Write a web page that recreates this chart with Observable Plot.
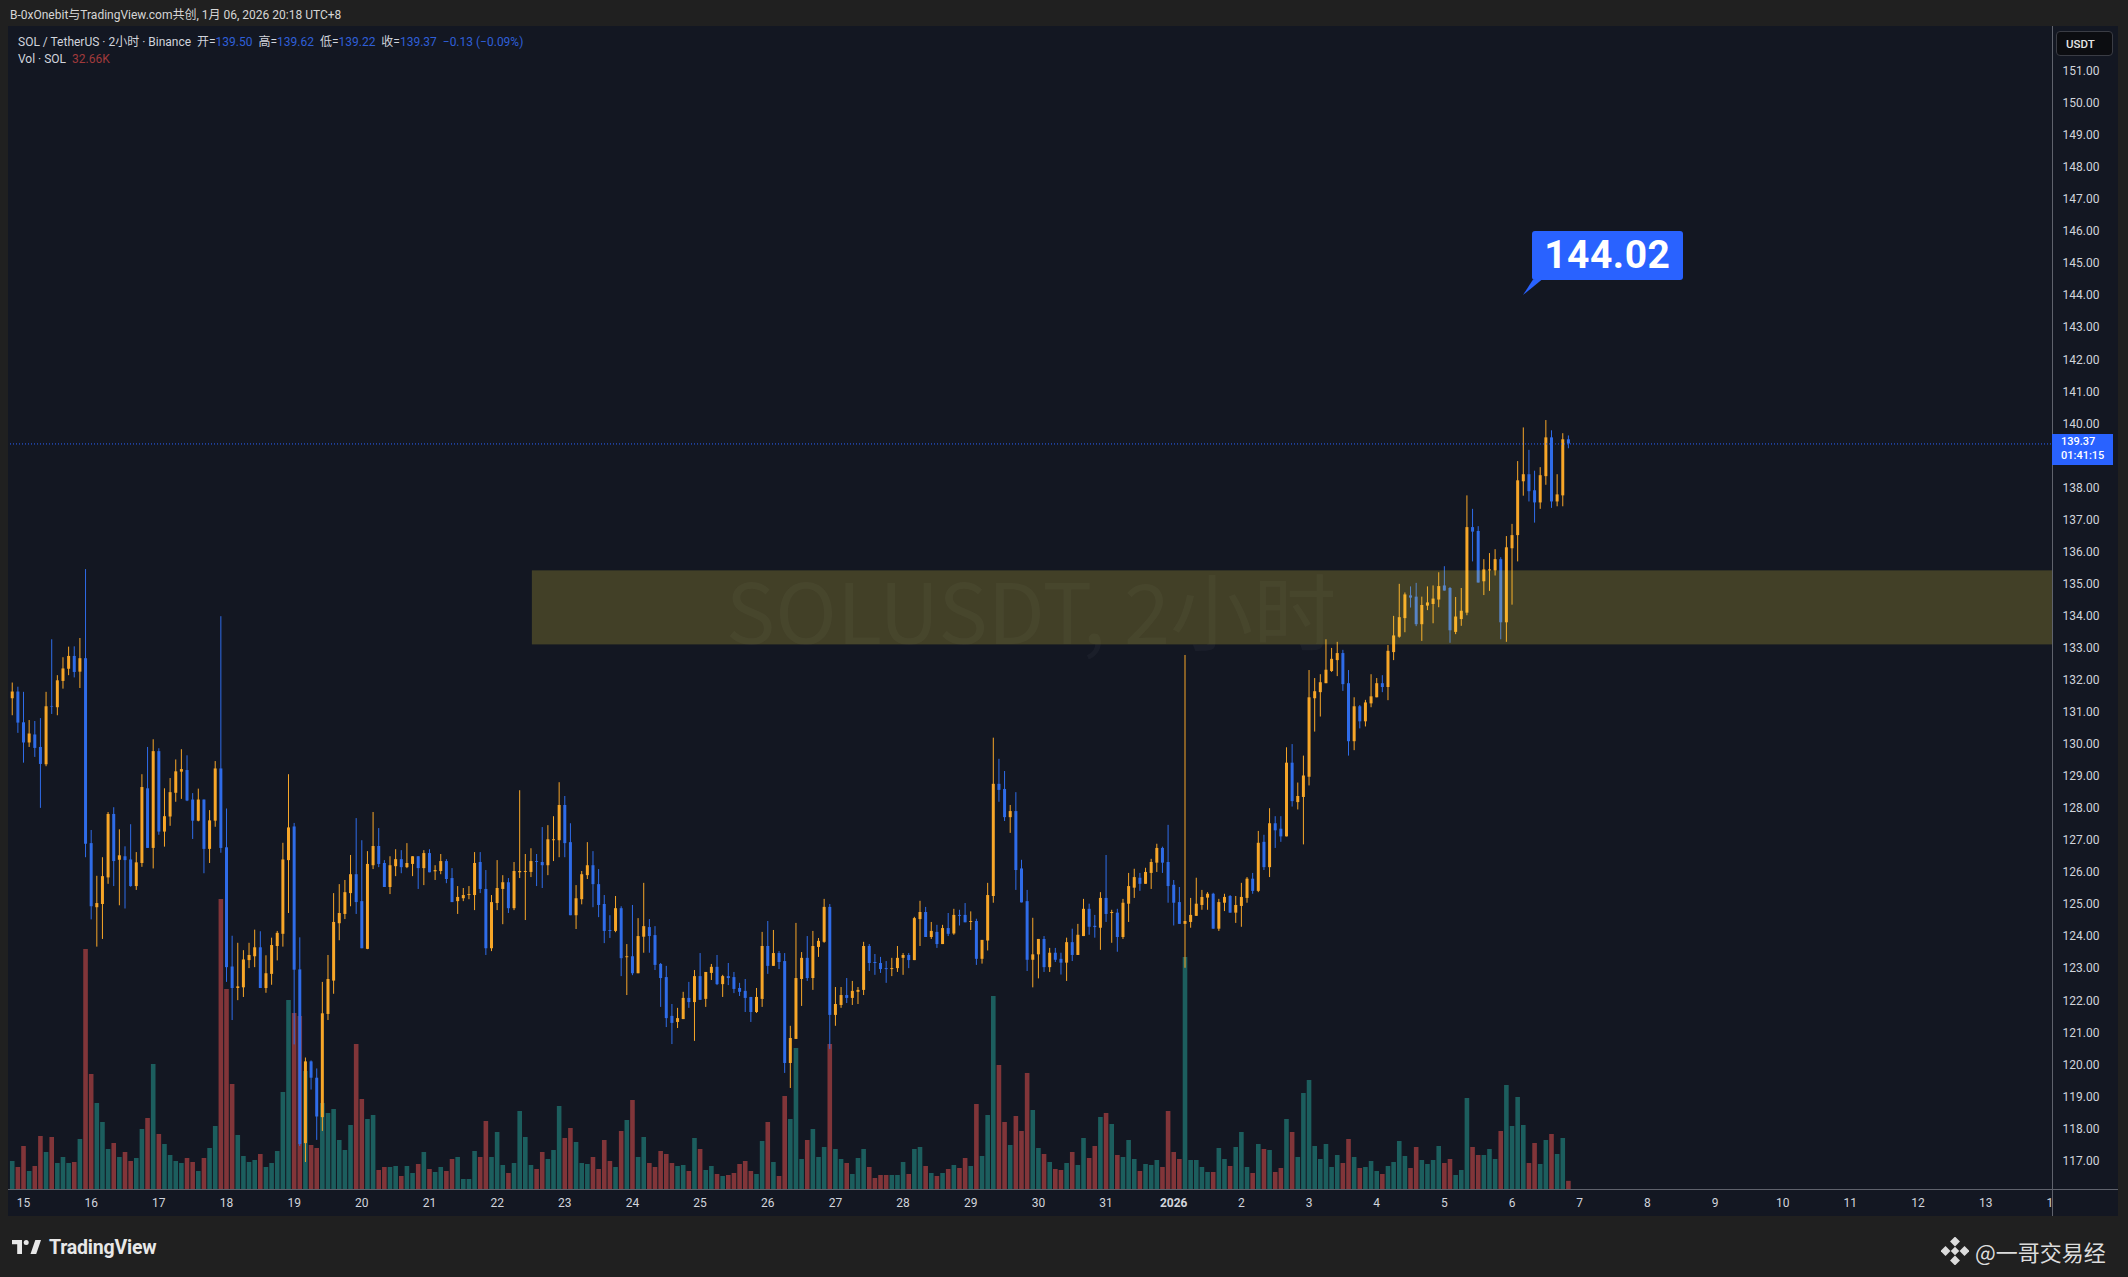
<!DOCTYPE html>
<html><head><meta charset="utf-8">
<script src="https://cdn.jsdelivr.net/npm/d3@7"></script>
<script src="https://cdn.jsdelivr.net/npm/@observablehq/plot@0.6"></script>
<style>
html,body{margin:0;padding:0;background:#202020;}
#root{position:relative;width:2128px;height:1277px;background:#202020;overflow:hidden;font-family:Roboto,"Noto Sans CJK SC",sans-serif;}
#topbar{position:absolute;left:10px;top:7px;font-size:12px;line-height:16px;color:#d6d6d6;white-space:nowrap;}
#pane{position:absolute;left:8px;top:26px;width:2110px;height:1190px;background:#131722;overflow:hidden;}
#pane svg{position:absolute;left:0;top:0;}
#wm{position:absolute;left:2px;top:0;width:2042px;height:1163px;display:flex;align-items:center;justify-content:center;font-family:"Noto Sans CJK SC",sans-serif;font-size:83px;color:rgba(200,205,225,0.04);white-space:nowrap;}
#legend{position:absolute;left:10px;top:8px;font-size:12px;line-height:17px;color:#d1d4dc;white-space:nowrap;}
.v{color:#2f5fd8;}
.vr{color:#a03a3c;}
#vline{position:absolute;left:2044px;top:0;width:1px;height:1190px;background:#5f626c;}
#hline{position:absolute;left:0;top:1163px;width:2110px;height:1px;background:#5f626c;}
#axcover{position:absolute;left:2045px;top:1164px;width:65px;height:26px;background:#131722;}
#usdt{position:absolute;left:2048px;top:5px;width:57px;height:25px;background:#0c0d11;border:1px solid #3a3c44;border-radius:4px;color:#e6e6e6;font-size:11.5px;line-height:25px;padding-left:9px;box-sizing:border-box;font-weight:500;}
#plabel{position:absolute;left:2044px;width:61px;height:31px;background:#2962ff;}
#plabel div{position:absolute;left:9px;color:#fff;font-size:11px;line-height:12px;font-weight:500;white-space:nowrap;}
#callout{position:absolute;background:#2962ff;color:#fff;font-weight:700;font-size:39px;line-height:49px;width:151px;height:49px;text-align:center;border-radius:3px;letter-spacing:0.5px;}
#tvlogo{position:absolute;left:12px;top:1236px;height:22px;display:flex;align-items:center;color:#e8e8e8;font-family:Roboto,sans-serif;font-weight:700;font-size:19.5px;letter-spacing:-0.2px;}
#credit{position:absolute;left:1941px;top:1236px;height:30px;display:flex;align-items:center;color:#dcdcdc;font-family:"Noto Sans CJK SC",sans-serif;font-size:22px;}
</style></head>
<body>
<div id="root">
  <div id="topbar">B-0xOnebit与TradingView.com共创, 1月 06, 2026 20:18 UTC+8</div>
  <div id="pane">
    <div id="wm">SOLUSDT, 2小时</div>
  </div>
  <div id="tvlogo"><svg width="30" height="15" viewBox="0 0 30 15"><path d="M0 0H10V14H5.2V4.3H0Z" fill="#e8e8e8"/><circle cx="14.2" cy="2.5" r="2.5" fill="#e8e8e8"/><path d="M18.5 14L23.3 0H29L24.2 14Z" fill="#e8e8e8"/></svg><span style="margin-left:7px">TradingView</span></div>
  <div id="credit"><svg width="28" height="28" viewBox="0 0 28 28"><g fill="#dcdcdc"><rect x="10.5" y="1" width="7" height="7" transform="rotate(45 14 4.5)"/><rect x="10.5" y="20" width="7" height="7" transform="rotate(45 14 23.5)"/><rect x="1" y="10.5" width="7" height="7" transform="rotate(45 4.5 14)"/><rect x="20" y="10.5" width="7" height="7" transform="rotate(45 23.5 14)"/><rect x="11" y="11" width="6" height="6" transform="rotate(45 14 14)"/></g></svg><span style="margin-left:6px">@一哥交易经</span></div>
</div>
<script>
// ---------- data (2h candles, SOL/USDT, UTC+8), first candle 2025-12-14 20:00 ----------
const open = [
131.42,131.63,130.67,130.04,130.29,129.90,129.36,131.18,131.14,131.96,
132.34,132.74,132.25,132.67,126.90,124.90,125.00,125.83,127.81,126.38,
126.49,126.39,125.56,126.28,128.61,126.75,129.77,127.26,127.73,128.47,
129.13,129.18,128.26,127.60,128.26,126.72,127.60,129.23,126.77,123.05,
122.38,122.40,123.25,123.37,123.65,122.38,122.82,123.69,124.07,126.37,
127.42,122.96,117.54,120.09,119.58,118.35,121.57,122.61,124.40,124.69,
125.34,125.93,125.09,123.60,126.21,126.81,126.28,125.53,126.18,126.40,
126.15,126.25,126.49,126.12,126.59,126.02,126.03,126.34,125.81,125.09,
125.18,125.28,125.28,126.31,125.47,123.62,125.03,125.47,125.68,124.87,
125.99,126.00,126.00,126.34,126.31,126.21,126.99,126.99,128.09,126.93,
124.65,125.15,125.90,126.21,125.62,125.00,124.19,124.16,124.87,123.34,
123.37,122.84,123.98,124.28,124.03,123.13,122.72,121.51,121.32,121.41,
122.07,121.94,122.75,122.04,122.85,123.04,122.50,122.75,122.72,122.38,
122.29,122.10,121.63,122.04,123.69,123.07,123.47,123.22,120.04,120.79,
122.66,123.32,122.69,123.66,123.82,124.91,121.54,121.85,122.16,122.07,
122.26,122.32,123.69,123.19,123.16,123.00,122.97,123.00,123.32,123.41,
123.25,124.53,124.75,123.97,124.13,123.75,124.25,124.08,124.66,124.66,
124.44,124.47,123.29,123.86,125.25,128.75,128.59,127.71,127.90,126.11,
125.09,123.26,123.43,123.91,123.03,123.48,123.29,123.17,123.81,123.41,
124.00,124.85,124.32,124.26,125.19,124.72,124.73,123.97,125.01,125.51,
125.82,125.63,125.97,126.29,126.75,126.31,125.60,125.06,124.38,124.44,
124.63,124.97,125.20,125.32,124.23,125.04,125.25,124.73,124.94,125.19,
125.79,125.41,126.94,126.15,127.52,127.35,127.11,129.41,128.18,128.34,
128.97,131.42,131.61,131.89,132.27,132.61,132.83,131.89,130.08,131.17,
130.70,131.26,131.45,131.89,131.77,132.86,133.34,133.92,134.63,134.59,
133.73,134.31,134.36,134.50,134.94,134.86,133.49,133.89,134.09,136.76,
136.64,135.07,135.41,135.41,135.76,133.79,136.10,136.51,138.19,138.41,
137.91,137.53,138.35,139.56,137.56,137.75,139.50];
const high = [
131.91,131.78,131.62,130.74,130.71,130.80,131.62,133.26,132.14,132.70,
133.03,133.04,133.30,135.45,127.31,125.88,126.46,127.87,128.02,127.33,
126.80,127.49,126.62,129.05,129.90,130.14,129.86,128.61,128.93,129.51,
129.83,129.64,128.46,128.60,128.26,127.93,129.46,133.98,127.98,124.01,
123.79,123.56,123.79,124.20,124.15,123.40,123.95,124.16,126.91,129.05,
127.53,123.96,120.21,120.12,119.87,122.57,123.41,125.34,125.62,125.75,
126.53,127.68,126.99,126.65,127.87,127.37,126.37,126.49,126.71,126.68,
126.90,126.49,126.49,126.68,126.71,126.21,126.56,126.40,126.12,125.56,
125.50,125.56,126.62,126.62,126.06,125.28,126.37,125.90,125.81,126.31,
128.55,126.56,126.74,126.56,127.40,127.46,127.74,128.80,128.37,127.52,
125.59,126.03,126.93,126.65,126.09,125.28,124.65,125.25,124.93,123.75,
124.97,124.56,125.66,124.53,124.31,123.16,123.07,121.88,121.76,122.26,
122.57,122.94,123.47,122.88,123.13,123.41,122.79,123.16,122.88,122.54,
122.66,122.10,122.38,124.13,124.47,124.19,123.53,123.47,121.20,124.41,
123.50,124.00,124.16,123.94,125.16,125.00,122.41,122.41,122.69,122.60,
122.41,123.82,123.75,123.44,123.35,123.22,123.32,123.69,123.47,123.47,
124.60,125.10,124.91,124.44,124.35,124.35,124.72,124.85,124.82,125.03,
124.77,124.54,123.88,125.66,130.19,129.53,129.15,128.09,128.49,126.38,
125.44,124.57,123.91,124.00,123.63,123.63,123.48,123.95,124.23,124.38,
125.16,125.01,124.66,125.37,126.53,124.82,124.85,125.16,125.97,126.10,
125.97,126.13,126.41,126.88,126.79,127.47,125.75,125.53,132.77,125.19,
125.82,125.44,125.37,125.35,125.16,125.32,125.28,125.25,125.66,125.84,
125.97,127.28,127.16,127.99,127.74,127.74,129.89,129.99,128.79,129.63,
132.30,132.05,132.17,133.26,132.99,133.18,132.93,132.30,131.45,131.21,
131.37,132.17,132.05,132.14,133.08,133.99,134.99,134.72,134.91,135.02,
134.59,134.91,134.94,135.35,135.54,134.89,134.58,134.86,137.75,137.33,
136.79,135.76,135.95,136.07,135.82,136.48,136.86,138.82,139.87,139.17,
138.52,138.63,140.10,139.78,138.41,139.69,139.62];
const low = [
130.89,130.34,129.41,129.90,129.59,128.00,129.30,130.93,130.89,131.72,
132.14,132.07,131.74,126.46,124.52,123.67,123.91,125.63,125.56,124.96,
124.86,125.54,125.44,126.16,126.75,126.11,127.16,126.79,127.44,128.19,
128.28,128.21,127.03,127.58,125.96,126.28,127.41,126.60,122.57,121.38,
122.00,122.10,123.00,123.03,122.38,122.23,122.48,123.24,123.67,124.72,
120.62,117.45,116.95,119.21,117.64,117.92,121.38,122.20,123.87,124.53,
124.93,124.69,123.62,123.59,126.09,126.15,125.53,125.31,125.87,125.96,
126.12,125.87,125.47,125.59,125.99,125.75,125.93,125.65,125.06,124.69,
125.09,125.15,124.81,125.34,123.41,123.53,124.81,124.37,124.72,124.81,
125.81,124.50,125.84,125.56,125.50,125.90,126.34,126.46,126.46,124.65,
124.22,124.99,125.78,124.90,124.59,123.78,123.94,124.12,122.75,122.16,
122.78,122.84,123.48,123.48,122.94,121.79,121.16,120.63,121.13,121.41,
121.76,120.73,122.01,121.79,122.63,122.47,122.10,122.47,122.22,122.13,
121.63,121.32,121.60,121.79,122.82,123.07,122.97,119.73,119.26,120.79,
121.82,122.60,122.32,123.35,123.79,120.48,121.20,121.76,121.91,121.85,
121.88,122.16,122.91,122.79,122.85,122.54,122.75,122.88,122.79,123.00,
123.25,123.69,123.97,123.91,123.63,123.75,124.00,124.04,124.33,124.43,
124.19,123.10,123.14,123.55,125.04,128.19,127.59,127.22,125.44,125.05,
122.91,122.40,122.68,122.88,122.88,123.19,122.80,122.60,123.22,123.41,
124.00,124.04,123.95,123.57,124.44,123.79,123.51,123.91,124.44,125.19,
125.41,125.63,125.47,126.00,125.97,125.04,124.33,124.38,123.01,124.26,
124.63,124.82,124.82,124.23,124.16,124.78,124.73,124.41,124.29,125.04,
125.32,125.37,126.06,125.84,126.75,126.94,127.11,128.04,127.95,126.86,
128.70,130.38,130.85,131.89,132.24,132.11,131.65,129.63,129.80,130.48,
130.54,131.14,131.45,131.61,131.36,132.61,133.31,133.48,134.25,133.67,
133.21,134.17,133.76,134.26,134.78,133.15,133.42,133.68,134.01,135.69,
135.03,134.64,134.77,135.25,133.26,133.18,134.34,135.69,137.74,137.56,
136.90,137.33,138.08,137.36,137.41,137.41,139.22];
const close = [
131.63,130.66,130.04,130.32,129.87,129.37,131.17,131.16,131.98,132.35,
132.74,132.24,132.67,126.88,124.93,125.03,125.87,127.81,126.34,126.52,
126.37,125.56,126.30,128.65,126.75,129.77,127.26,127.74,128.49,129.14,
129.21,128.23,127.60,128.26,126.72,127.61,129.23,126.75,123.03,122.38,
122.43,123.27,123.41,123.65,122.38,122.84,123.72,124.10,126.39,127.39,
122.95,117.51,120.09,119.58,118.37,121.59,122.66,124.44,124.72,125.37,
125.93,125.06,123.62,126.25,126.81,126.25,125.53,126.21,126.40,126.15,
126.28,126.49,126.12,126.59,125.99,126.06,126.34,125.78,125.06,125.22,
125.28,125.31,126.28,125.47,123.62,125.06,125.50,125.68,124.87,126.03,
126.03,126.03,126.34,126.31,126.21,127.02,127.02,128.09,126.90,124.65,
125.18,125.93,126.21,125.62,124.97,124.16,124.16,124.87,123.31,123.37,
122.84,124.00,124.31,124.00,123.10,122.69,121.44,121.29,121.44,122.07,
121.94,122.75,122.01,122.88,123.04,122.50,122.75,122.69,122.35,122.26,
122.07,121.63,122.10,123.69,123.07,123.47,123.19,120.04,120.82,122.69,
123.32,122.69,123.69,123.85,124.91,121.54,121.88,122.16,122.07,122.29,
122.32,123.69,123.16,123.16,122.97,122.97,123.00,123.32,123.41,123.25,
124.56,124.75,123.97,124.16,123.75,124.25,124.07,124.66,124.63,124.43,
124.47,123.29,123.88,125.28,128.75,128.56,127.71,127.90,126.06,125.05,
123.26,123.43,123.91,123.03,123.48,123.26,123.17,123.81,123.41,124.04,
124.85,124.29,124.28,125.19,124.69,124.75,123.97,125.04,125.56,125.84,
125.63,126.00,126.31,126.75,126.29,125.56,125.04,124.38,124.47,124.66,
125.01,125.22,125.32,124.23,125.06,125.22,124.73,124.97,125.22,125.79,
125.41,126.91,126.15,127.52,127.30,127.11,129.41,128.21,128.37,129.01,
131.45,131.64,131.92,132.31,132.65,132.83,131.86,130.08,131.17,130.70,
131.29,131.48,131.89,131.77,132.90,133.38,133.95,134.66,134.56,133.73,
134.33,134.41,134.53,134.92,134.78,133.54,133.97,134.15,136.76,136.62,
135.03,135.44,135.44,135.76,133.79,136.13,136.51,138.22,138.41,137.88,
137.53,138.38,139.56,137.56,137.78,139.50,139.37];
// volume, thousands of SOL
const volume = [
112,88,172,72,92,212,148,208,104,128,
104,108,200,960,460,344,268,160,184,128,
148,112,124,240,284,500,220,180,136,112,
104,124,108,72,124,164,252,1160,800,420,
216,132,108,116,140,88,104,152,388,756,
704,692,472,176,164,344,304,320,196,156,
256,580,360,280,296,76,88,88,92,52,
92,64,100,148,80,68,88,72,120,128,
40,40,152,128,272,128,228,96,64,104,
312,208,96,80,148,120,156,332,204,244,
188,104,100,128,80,196,112,88,232,276,
356,128,208,104,88,152,140,104,92,96,
72,204,160,76,92,60,52,56,64,100,
112,72,60,192,268,108,52,372,280,564,
120,196,240,128,168,580,160,120,104,60,
124,160,88,44,56,56,56,56,108,60,
160,168,92,64,52,64,80,96,84,124,
92,340,132,296,772,496,268,176,292,232,
464,316,164,140,108,80,76,104,148,96,
204,124,172,288,304,260,136,128,196,120,
72,100,96,116,88,312,148,120,928,116,
116,88,68,68,164,120,92,168,228,88,
64,180,160,156,68,84,280,228,128,384,
436,172,120,180,88,136,104,200,128,84,
88,112,72,60,92,108,192,132,84,168,
116,100,116,172,104,120,56,76,364,168,
136,136,160,120,232,416,252,368,256,104,
184,100,196,220,140,204,32.66];

const xTickLabels = ["15","16","17","18","19","20","21","22","23","24","25","26","27","28","29","30","31","2026","2","3","4","5","6","7","8","9","10","11","12","13","14"];
// 139.00 is hidden behind the last-price label in the reference
const priceTicks = [117,118,119,120,121,122,123,124,125,126,127,128,129,130,131,132,133,134,135,136,137,138,140,141,142,143,144,145,146,147,148,149,150,151];
const zoneLow = 133.10, zoneHigh = 135.41;           // highlighted rectangle
const zoneStart = new Date(Date.UTC(2025, 11, 22, 12, 30));
const targetPrice = 144.02;                          // callout
const targetTime = new Date(Date.UTC(2026, 0, 6, 4, 0));
const countdown = "01:41:15";

// ---------- build ----------
const H2 = 7200000;
const start = Date.UTC(2025, 11, 14, 20);
const candles = open.map((o, i) => ({
  date: new Date(start + i * H2), open: o, high: high[i], low: low[i], close: close[i], volume: volume[i]
}));
const xTickDates = xTickLabels.map((_, i) => new Date(Date.UTC(2025, 11, 15 + i)));
const labelByTime = new Map(xTickDates.map((d, i) => [d.getTime(), xTickLabels[i]]));
const xDomain = [new Date(Date.UTC(2025, 11, 14, 19, 23)), new Date(Date.UTC(2026, 0, 13, 23, 43))];
const UP = "#f7a628", DOWN = "#2f6ce8";
const last = candles[candles.length - 1];

const W = 2110, H = 1190;
const base = {width: W, height: H, marginLeft: 2, marginRight: 66, marginTop: 0, marginBottom: 27,
  style: {background: "transparent", fontFamily: "Roboto, 'Noto Sans', sans-serif", fontSize: "12px", color: "#d1d4dc", overflow: "visible"},
  color: {type: "identity"}};

const volPlot = Plot.plot({
  ...base,
  x: {type: "utc", domain: xDomain, axis: null},
  y: {domain: [0, 4652], axis: null},
  marks: [
    Plot.ruleX(candles, {x: "date", y1: 0, y2: "volume", strokeWidth: 4.6,
      stroke: d => d.close >= d.open ? "rgba(38,166,154,0.5)" : "rgba(239,83,80,0.5)"})
  ]
});

const pricePlot = Plot.plot({
  ...base,
  x: {type: "utc", domain: xDomain},
  y: {domain: [116.108, 152.395]},
  marks: [
    Plot.ruleX(candles, {x: "date", y1: "low", y2: "high", strokeWidth: 1,
      stroke: d => d.close >= d.open ? UP : DOWN}),
    Plot.ruleX(candles, {x: "date", y1: "open", y2: "close", strokeWidth: 3,
      stroke: d => d.close >= d.open ? UP : DOWN}),
    Plot.rect([{x1: zoneStart, x2: xDomain[1], y1: zoneLow, y2: zoneHigh}],
      {x1: "x1", x2: "x2", y1: "y1", y2: "y2", fill: "rgb(255,232,59)", fillOpacity: 0.2, clip: true}),
    Plot.ruleY([last.close], {stroke: "#2962ff", strokeWidth: 1, strokeDasharray: "1,2"}),
    Plot.axisY({anchor: "right", ticks: priceTicks, tickFormat: d => d.toFixed(2), tickSize: 0, tickPadding: 10,
      fill: "#d1d4dc", fontSize: 12}),
    Plot.axisX({ticks: xTickDates, tickFormat: d => labelByTime.get(+d), tickSize: 0, tickPadding: 9,
      fill: "#d1d4dc", fontSize: 12})
  ]
});

const pane = document.getElementById("pane");
pane.appendChild(volPlot);
pane.appendChild(pricePlot);
d3.select(pricePlot).selectAll("text").filter(function(){ return this.textContent === "2026"; }).attr("font-weight", "bold");

// axis lines (and the price-axis corner that hides the clipped last date label)
const cover = document.createElement("div"); cover.id = "axcover"; pane.appendChild(cover);
const vline = document.createElement("div"); vline.id = "vline"; pane.appendChild(vline);
const hline = document.createElement("div"); hline.id = "hline"; pane.appendChild(hline);

// legend
const chg = last.close - last.open, pct = chg / last.open * 100;
const fmt = v => v.toFixed(2);
const neg = v => (v < 0 ? "\u2212" : "+") + Math.abs(v).toFixed(2);
const legend = document.createElement("div");
legend.id = "legend";
legend.innerHTML = `SOL / TetherUS · 2小时 · Binance&nbsp; 开=<span class="v">${fmt(last.open)}</span>&nbsp; 高=<span class="v">${fmt(last.high)}</span>&nbsp; 低=<span class="v">${fmt(last.low)}</span>&nbsp; 收=<span class="v">${fmt(last.close)}</span>&nbsp; <span class="v">${neg(chg)} (${neg(pct)}%)</span><br>Vol · SOL&nbsp; <span class="vr">${fmt(last.volume)}K</span>`;
pane.appendChild(legend);

// USDT box
const usdt = document.createElement("div"); usdt.id = "usdt"; usdt.textContent = "USDT"; pane.appendChild(usdt);

// current price label
const ys = pricePlot.scale("y"), xs = pricePlot.scale("x");
const py = ys.apply(last.close);
const pl = document.createElement("div"); pl.id = "plabel";
pl.style.top = (py - 9) + "px";
pl.innerHTML = `<div style="top:2px">${fmt(last.close)}</div><div style="top:16px">${countdown}</div>`;
pane.appendChild(pl);

// callout 144.02
const tx = xs.apply(targetTime), ty = ys.apply(targetPrice);
const box = document.createElement("div"); box.id = "callout";
box.style.left = (tx + 9) + "px"; box.style.top = (ty - 63) + "px";
box.textContent = fmt(targetPrice);
pane.appendChild(box);
const tail = document.createElementNS("http://www.w3.org/2000/svg", "svg");
tail.setAttribute("width", 30); tail.setAttribute("height", 20);
tail.style.left = (tx - 1) + "px"; tail.style.top = (ty - 16) + "px"; tail.style.position = "absolute";
tail.innerHTML = `<polygon points="1,17 11,1.5 20,1.5" fill="#2962ff"/>`;
pane.appendChild(tail);
</script>
</body></html>
